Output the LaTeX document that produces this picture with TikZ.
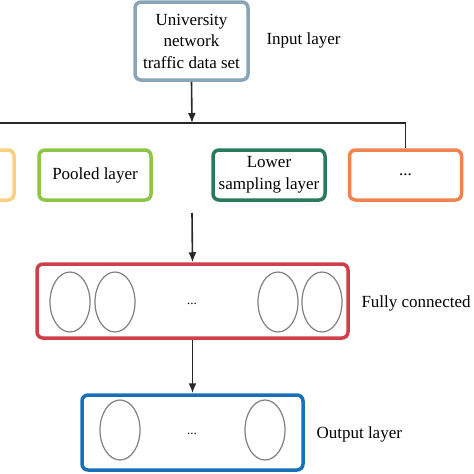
\documentclass[tikz,border=0pt]{standalone}
\usepackage{fontspec}
\setmainfont{Liberation Serif}
\usetikzlibrary{arrows.meta, shapes.geometric}
\definecolor{inblue}{RGB}{138,164,184}
\definecolor{convyellow}{RGB}{250,208,128}
\definecolor{poolgreen}{RGB}{140,198,72}
\definecolor{lowgreen}{RGB}{40,122,90}
\definecolor{dotorange}{RGB}{240,132,78}
\definecolor{fcred}{RGB}{208,64,74}
\definecolor{outblue}{RGB}{24,112,184}
\definecolor{cellgray}{RGB}{128,128,128}
\definecolor{linkgray}{RGB}{40,40,40}
\tikzset{
    layerbox/.style = {draw, rounded corners = 6pt, line width = 3.5pt, align = center,
        text = black, font = \rmfamily\fontsize{17}{21.5}\selectfont},
    rowbox/.style = {layerbox, minimum width = 112pt, minimum height = 50pt},
    cell/.style = {draw = cellgray, line width = 1.2pt, ellipse, minimum width = 40pt, minimum height = 60pt, inner sep = 0pt},
    tag/.style = {anchor = west, font = \rmfamily\fontsize{17}{21}\selectfont, text = black},
    dots/.style = {font = \rmfamily\fontsize{13}{15}\selectfont},
    link/.style = {draw = linkgray, line width = 1.6pt},
    flow/.style = {link, -{Latex[length = 10pt, width = 8pt]}}
}
\begin{document}
\begin{tikzpicture}[x = 1pt, y = -1pt]
    \clip (0, 0) rectangle (474, 474);

    % input
    \node [layerbox, draw = inblue, minimum width = 113pt, minimum height = 78pt] (input) at (191.5, 41) {University\\network\\traffic data set};
    \node [tag] (inputtag) at (263, 40) {Input layer};

    % hidden layers
    \node [rowbox, draw = convyellow] (conv) at (-42, 175) {};
    \node [rowbox, draw = poolgreen] (pool) at (95, 175) {Pooled layer};
    \node [rowbox, draw = lowgreen] (lower) at (269, 175) {Lower\\sampling layer};
    \node [rowbox, draw = dotorange] (more) at (405.5, 175) {...};

    \coordinate (split) at (192, 123);
    \coordinate (trunkL) at (-60, 123);
    \coordinate (merge) at (192, 213);
    \draw [flow] (input.south) -- (split);
    \draw [link] (trunkL) -- (more.north |- split) -- (more.north);

    % fully connected
    \node [layerbox, draw = fcred, minimum width = 311pt, minimum height = 74pt] (fc) at (192.5, 301) {};
    \foreach \cx [count = \i] in {70, 115, 278, 322}
        \node [cell] (fc\i) at (\cx, 302) {};
    \node [dots] (fcdots) at (192, 304) {...};
    \node [tag] (fctag) at (358, 303) {Fully connected};
    \draw [flow] (merge) -- (fc.north);

    % output
    \node [layerbox, draw = outblue, minimum width = 221pt, minimum height = 75pt] (out) at (192.5, 432.5) {};
    \foreach \cx [count = \i] in {120, 265}
        \node [cell] (out\i) at (\cx, 430) {};
    \node [dots] (outdots) at (192, 434) {...};
    \node [tag] (outtag) at (313, 434) {Output layer};
    \draw [flow] (fc.south) -- (out.north);
\end{tikzpicture}
\end{document}
